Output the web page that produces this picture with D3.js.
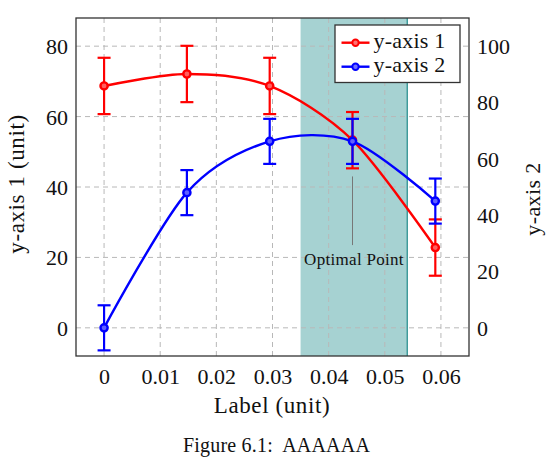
<!DOCTYPE html>
<html>
<head>
<meta charset="utf-8">
<script src="https://cdn.jsdelivr.net/npm/d3@7"></script>
<style>
  html, body { margin: 0; padding: 0; background: #fff; }
  svg { display: block; }
  svg text { font-family: "Liberation Serif", "DejaVu Serif", serif !important; }
</style>
</head>
<body>
<svg id="chart" width="555" height="462"></svg>
<script>
// ---- data ----
const xValues = [0, 0.01475, 0.0295, 0.04425, 0.059];
const series1Name = "y-axis 1";
const series1Values = [68.7, 72.1, 68.7, 53.3, 22.8];
const series1Errors = [8, 8, 8, 8, 8];
const series2Name = "y-axis 2";
const series2Values = [0, 48, 66.2, 66.2, 45];
const series2Errors = [8, 8, 8, 8, 8];
const xTicks = [0, 0.01, 0.02, 0.03, 0.04, 0.05, 0.06];
const xTickLabels = ["0", "0.01", "0.02", "0.03", "0.04", "0.05", "0.06"];
const yLeftTicks = [0, 20, 40, 60, 80];
const yRightTicks = [0, 20, 40, 60, 80, 100];
const bandRange = [0.035, 0.054];
const annotationX = 0.04425;
const annotationLine = [43, 23.5];   // left-axis units
const annotationTextY = 17.8;        // left-axis units
const annotationText = "Optimal Point";
const xLabel = "Label (unit)";
const yLeftLabel = "y-axis 1 (unit)";
const yRightLabel = "y-axis 2";
const caption = "Figure 6.1:\u00A0 AAAAAA";

// ---- layout ----
const FONT = "'Liberation Serif', 'DejaVu Serif', serif";
const L = 76, R = 469, T = 18, B = 356;
const svg = d3.select("#chart");

const x = d3.scaleLinear().domain([-0.005, 0.065]).range([L, R]);
const yL = d3.scaleLinear().domain([-8, 88]).range([B, T]);
const yR = d3.scaleLinear().domain([-10, 110]).range([B, T]);

const red = "#f00", blue = "#00f";

// band
svg.append("rect")
  .attr("x", x(bandRange[0])).attr("y", T)
  .attr("width", x(bandRange[1]) - x(bandRange[0]))
  .attr("height", B - T)
  .attr("fill", "#a6d2d2");
svg.append("line")
  .attr("x1", x(bandRange[1])).attr("x2", x(bandRange[1]))
  .attr("y1", T).attr("y2", B)
  .attr("stroke", "#1f8a8a").attr("stroke-width", 1.2);

// grid
const grid = svg.append("g").attr("stroke", "#b8b8b8").attr("stroke-width", 1)
  .attr("stroke-dasharray", "5,4").attr("fill", "none");
grid.selectAll("line.v").data(xTicks).join("line")
  .attr("x1", d => x(d)).attr("x2", d => x(d)).attr("y1", T).attr("y2", B);
grid.selectAll("line.h").data(yLeftTicks).join("line")
  .attr("y1", d => yL(d)).attr("y2", d => yL(d)).attr("x1", L).attr("x2", R);

// axes via d3 axis (labels only, custom style)
const axisFont = 22;
const gx = svg.append("g").attr("transform", `translate(0,${B})`)
  .call(d3.axisBottom(x).tickValues(xTicks).tickFormat((d, i) => xTickLabels[i]).tickSize(0).tickPadding(17));
const gyl = svg.append("g").attr("transform", `translate(${L},0)`)
  .call(d3.axisLeft(yL).tickValues(yLeftTicks).tickSize(0).tickPadding(8));
const gyr = svg.append("g").attr("transform", `translate(${R},0)`)
  .call(d3.axisRight(yR).tickValues(yRightTicks).tickSize(0).tickPadding(8));
[gx, gyl, gyr].forEach(g => {
  g.attr("font-family", FONT).attr("font-size", axisFont);
  g.select(".domain").remove();
  g.selectAll("text").attr("font-size", axisFont).attr("fill", "#111")
    .attr("font-family", FONT);
});
gx.selectAll("text").attr("dy", "0.5em");
gyl.selectAll("text").attr("dy", "0.34em");
gyr.selectAll("text").attr("dy", "0.34em");

// annotation
svg.append("line")
  .attr("x1", x(annotationX)).attr("x2", x(annotationX))
  .attr("y1", yL(annotationLine[0])).attr("y2", yL(annotationLine[1]))
  .attr("stroke", "#777").attr("stroke-width", 1);
svg.append("text")
  .attr("x", x(annotationX) + 1.5).attr("y", yL(annotationTextY))
  .attr("text-anchor", "middle").attr("font-size", 17).attr("letter-spacing", 0.3)
  .attr("font-family", FONT).attr("fill", "#111").text(annotationText);

// series
function drawSeries(vals, errs, yScale, color) {
  const g = svg.append("g");
  const pts = xValues.map((xv, i) => [x(xv), yScale(vals[i])]);
  g.append("path")
    .attr("d", d3.line().curve(d3.curveCardinal.tension(0.1))(pts))
    .attr("fill", "none").attr("stroke", color).attr("stroke-width", 2.4);
  const eb = g.append("g").attr("stroke", color).attr("stroke-width", 2.2);
  xValues.forEach((xv, i) => {
    const cx = x(xv), y1 = yScale(vals[i] + errs[i]), y2 = yScale(vals[i] - errs[i]);
    eb.append("line").attr("x1", cx).attr("x2", cx).attr("y1", y1).attr("y2", y2);
    eb.append("line").attr("x1", cx - 6.5).attr("x2", cx + 6.5).attr("y1", y1).attr("y2", y1);
    eb.append("line").attr("x1", cx - 6.5).attr("x2", cx + 6.5).attr("y1", y2).attr("y2", y2);
  });
  g.selectAll("circle").data(pts).join("circle")
    .attr("cx", d => d[0]).attr("cy", d => d[1]).attr("r", 3.6)
    .attr("fill", color === red ? "#ff6060" : "#6060ff").attr("stroke", color).attr("stroke-width", 2.4);
}
drawSeries(series1Values, series1Errors, yL, red);
drawSeries(series2Values, series2Errors, yR, blue);

// frame
svg.append("rect").attr("x", L).attr("y", T).attr("width", R - L).attr("height", B - T)
  .attr("fill", "none").attr("stroke", "#333").attr("stroke-width", 1.3);

// legend
const lg = svg.append("g");
lg.append("rect").attr("x", 335).attr("y", 25).attr("width", 125).attr("height", 57.5)
  .attr("fill", "#fff").attr("stroke", "#333").attr("stroke-width", 1.3);
[[series1Name, red], [series2Name, blue]].forEach(([name, color], i) => {
  const yy = 42.7 + i * 24;
  lg.append("line").attr("x1", 341.5).attr("x2", 369.5).attr("y1", yy).attr("y2", yy)
    .attr("stroke", color).attr("stroke-width", 2.4);
  lg.append("circle").attr("cx", 355.5).attr("cy", yy).attr("r", 3.2)
    .attr("fill", color === red ? "#ff7070" : "#7070ff").attr("stroke", color).attr("stroke-width", 2);
  lg.append("text").attr("x", 373.5).attr("y", yy + 5.5).attr("font-size", 22)
    .attr("font-family", FONT).attr("letter-spacing", 0.2).attr("fill", "#111").text(name);
});

// axis labels
svg.append("text").attr("x", 272).attr("y", 413).attr("text-anchor", "middle")
  .attr("font-family", FONT).attr("font-size", 23).attr("letter-spacing", 0.6).attr("fill", "#111").text(xLabel);
svg.append("text").attr("transform", "translate(24,184) rotate(-90)").attr("text-anchor", "middle")
  .attr("font-family", FONT).attr("font-size", 23).attr("letter-spacing", 0.6).attr("fill", "#111").text(yLeftLabel);
svg.append("text").attr("transform", "translate(540,199) rotate(-90)").attr("text-anchor", "middle")
  .attr("font-family", FONT).attr("font-size", 22).attr("letter-spacing", 0.4).attr("fill", "#111").text(yRightLabel);

// caption
svg.append("text").attr("x", 276.5).attr("y", 452).attr("text-anchor", "middle")
  .attr("font-family", FONT).attr("font-size", 20).attr("letter-spacing", 0.2).attr("fill", "#111").text(caption);
</script>
</body>
</html>
